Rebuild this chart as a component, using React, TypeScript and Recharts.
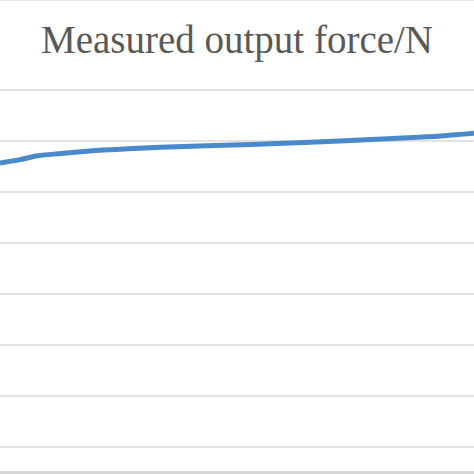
import React from "react";
import { LineChart, Line, XAxis, YAxis, CartesianGrid } from "recharts";

const xValues = [0, 4, 8, 13, 17, 21, 27, 34, 42, 53, 63, 74, 84, 93, 100];
const forceValues = [55.7, 56.3, 57.1, 57.55, 57.9, 58.17, 58.47, 58.76, 59.02, 59.31, 59.67, 60.1, 60.53, 60.98, 61.5];
const yTicks = [0, 10, 20, 30, 40, 50, 60, 70];
const title = "Measured output force/N";

const data = xValues.map((x, i) => ({ x, force: forceValues[i] }));

export default function App() {
  return (
    <div style={{ position: "absolute", left: 0, top: 0, width: 474, height: 474, background: "#fff", overflow: "hidden" }}>
      <LineChart width={474} height={474} data={data} margin={{ top: 90, right: 0, bottom: 27, left: 0 }}>
        <CartesianGrid vertical={false} horizontalValues={yTicks} stroke="#d9d9d9" strokeWidth={1.5} />
        <XAxis dataKey="x" type="number" domain={[0, 100]} hide />
        <YAxis type="number" domain={[0, 70]} ticks={yTicks} hide />
        <Line type="monotone" dataKey="force" stroke="#4a89cb" strokeWidth={5} dot={false} isAnimationActive={false} />
      </LineChart>
      <div
        style={{
          position: "absolute",
          left: 0,
          top: 17,
          width: 474,
          textAlign: "center",
          fontFamily: "Liberation Serif",
          fontSize: 39,
          lineHeight: "46px",
          color: "#595959",
          whiteSpace: "nowrap",
        }}
      >
        {title}
      </div>
      <div style={{ position: "absolute", left: 0, top: 0, width: 474, height: 1, background: "#e8e8e8" }} />
      <div style={{ position: "absolute", left: 0, top: 471, width: 474, height: 3, background: "#d6d6d6" }} />
    </div>
  );
}
